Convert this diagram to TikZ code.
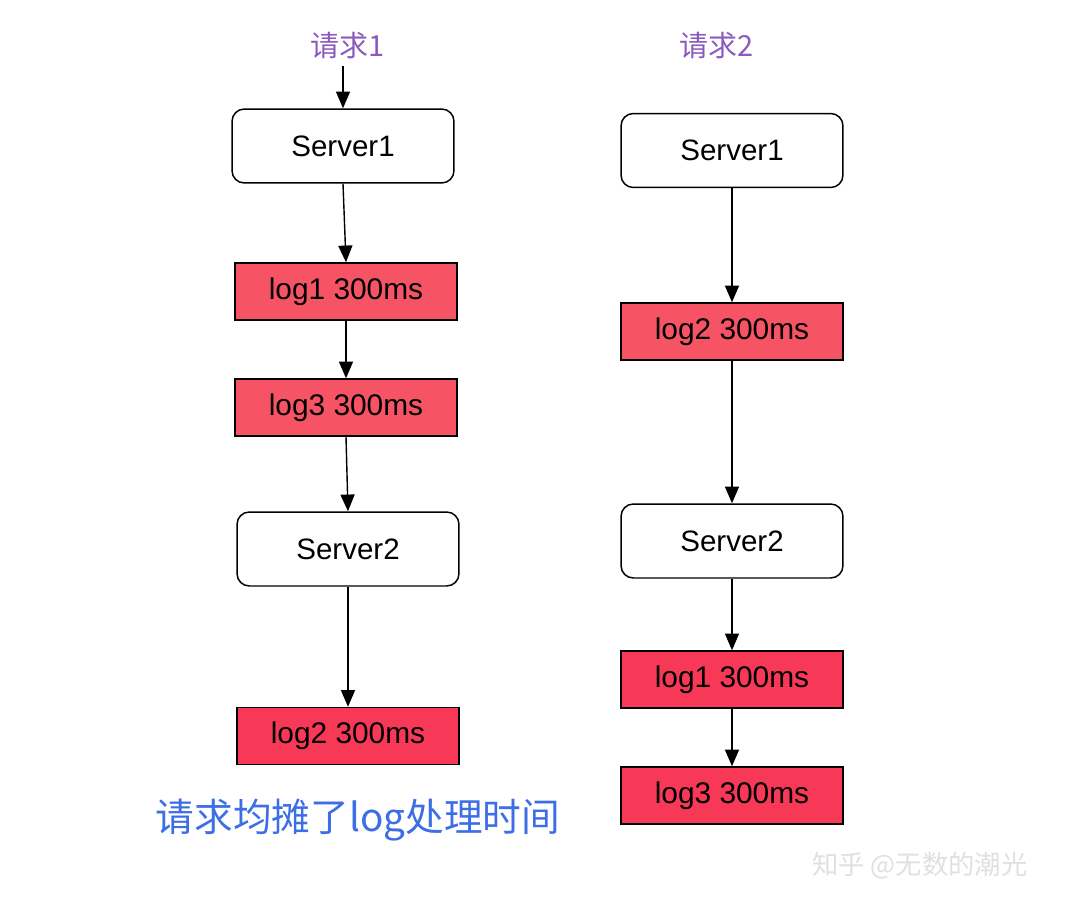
\documentclass[tikz,border=0pt]{standalone}
\usepackage{fontspec}
\usepackage{tikz}
\usetikzlibrary{arrows.meta}
\setmainfont{Liberation Sans}
\newfontfamily\cjk{Noto Sans CJK SC}
\definecolor{reqpurple}{RGB}{140,90,190}
\definecolor{noteblue}{RGB}{60,110,230}
\definecolor{logredA}{RGB}{246,84,100}
\definecolor{logredB}{RGB}{247,56,86}
\tikzset{
	server/.style={draw=black,line width=0.85pt,rounded corners=7pt,fill=white,minimum width=4.44cm,minimum height=1.48cm,font=\fontsize{16.8}{18}\selectfont},
	logbox/.style={draw=black,line width=0.85pt,minimum width=4.44cm,minimum height=1.14cm,font=\fontsize{17}{18}\selectfont},
	req/.style={text=reqpurple,font=\cjk\fontsize{16.5}{18}\selectfont},
	flow/.style={black,line width=0.8pt,-{Triangle[length=9.5pt,width=8pt]}}
}

\begin{document}
\begin{tikzpicture}[x=0.02cm,y=-0.02cm]
	\useasboundingbox (0,0) rectangle (1080,913);
\node[req] (R1) at (348,46) {请求1};
\node[req] (R2) at (717,46) {请求2};

\node[server] (S1a) at (343,146) {Server1};
\node[logbox,fill=logredA] (L1a) at (346,291.5) {log1 300ms};
\node[logbox,fill=logredA] (L3a) at (346,407.5) {log3 300ms};
\node[server] (S2a) at (348,549) {Server2};
\node[logbox,fill=logredB] (L2a) at (348,736) {log2 300ms};

\node[server] (S1b) at (732,150.5) {Server1};
\node[logbox,fill=logredA] (L2b) at (732,331.5) {log2 300ms};
\node[server] (S2b) at (732,541) {Server2};
\node[logbox,fill=logredB] (L1b) at (732,679.5) {log1 300ms};
\node[logbox,fill=logredB] (L3b) at (732,795.5) {log3 300ms};

\draw[flow] (S1a.north |- R1.south) -- (S1a.north);
\draw[flow] (S1a.south) -- (L1a.north);
\draw[flow] (L1a.south) -- (L3a.north);
\draw[flow] (L3a.south) -- (S2a.north);
\draw[flow] (S2a.south) -- (L2a.north);

\draw[flow] (S1b.south) -- (L2b.north);
\draw[flow] (L2b.south) -- (S2b.north);
\draw[flow] (S2b.south) -- (L1b.north);
\draw[flow] (L1b.south) -- (L3b.north);

\node[text=noteblue,font=\cjk\fontsize{22}{24}\selectfont] (N) at (358,820) {请求均摊了log处理时间};
\node[text=black!12,font=\cjk\fontsize{15}{17}\selectfont] (W) at (920,866) {知乎 @无数的潮光};

\end{tikzpicture}
\end{document}
